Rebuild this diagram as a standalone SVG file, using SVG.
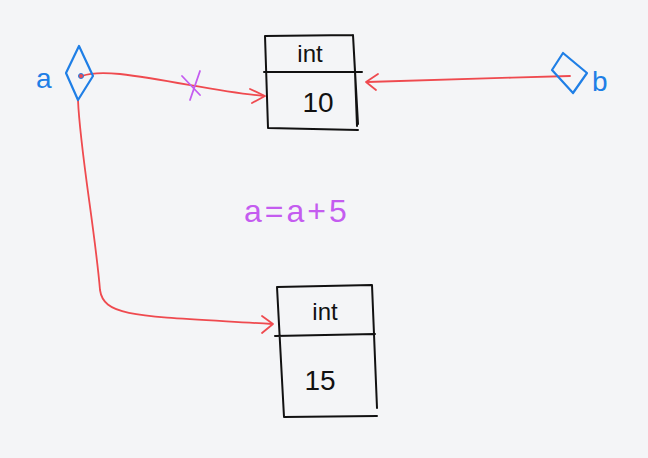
<svg xmlns="http://www.w3.org/2000/svg" width="648" height="458" viewBox="0 0 648 458">
<style>
.box{fill:none;stroke:#111;stroke-width:2;stroke-linejoin:round;stroke-linecap:round}
.dia{fill:none;stroke:#1f7fe6;stroke-width:2.2;stroke-linejoin:round}
.red{fill:none;stroke:#ef4a4f;stroke-width:1.8;stroke-linecap:round;stroke-linejoin:round}
.lbl{font-family:"Liberation Sans",sans-serif;fill:#1f7fe6;font-size:28px}
.bt{font-family:"Liberation Sans",sans-serif;fill:#111;text-anchor:middle}
.pur{font-family:"Liberation Sans",sans-serif;fill:#c45cf0;font-size:32px;letter-spacing:3px}
</style>
<rect width="648" height="458" fill="#f4f5f7"/>
<g id="connectors">
<path class="red" d="M82,76 C90,73 100,72 120,74 C170,80 220,92 264,96"/>
<path class="red" d="M250,89 L265,96 L252,103"/>
<path class="red" d="M570,76 C500,78 420,80 367,82"/>
<path class="red" d="M378,74 L366,82 L376,90"/>
<path class="red" d="M78,100 C80,150 95,230 100,290 C104,318 140,316 272,324"/>
<path class="red" d="M262,316 L273,324 L262,333"/>
<path d="M200,71 L190,100 M182,76 L200,95" fill="none" stroke="#c45cf0" stroke-width="1.8" stroke-linecap="round"/>
</g>
<g id="a">
<path class="dia" d="M79,46 L93,76 L78,100 L66,73 Z"/>
<circle cx="81" cy="76" r="2.5" fill="#ef4a4f" stroke="#1f7fe6" stroke-width="1"/>
<text class="lbl" x="36" y="88">a</text>
</g>
<g id="b">
<path class="dia" d="M563,53 L587,73 L573,93 L552,70 Z"/>
<text class="lbl" x="592" y="91">b</text>
</g>
<g id="box10">
<path class="box" d="M265,36 L353,35 L355,72 L357,126 M353,35 L358,124 M264,72 L362,72 M265,36 L268,128 L358,130"/>
<text class="bt" x="310" y="62" font-size="24">int</text>
<text class="bt" x="318" y="112" font-size="28">10</text>
</g>
<g id="box15">
<path class="box" d="M277,287 L372,285 L377,408 M275,336 L375,334 M277,287 L284,417 L377,416"/>
<text class="bt" x="325" y="320" font-size="24">int</text>
<text class="bt" x="320" y="390" font-size="28">15</text>
</g>
<g id="expr">
<text class="pur" x="244" y="222">a=a+5</text>
</g>
</svg>
